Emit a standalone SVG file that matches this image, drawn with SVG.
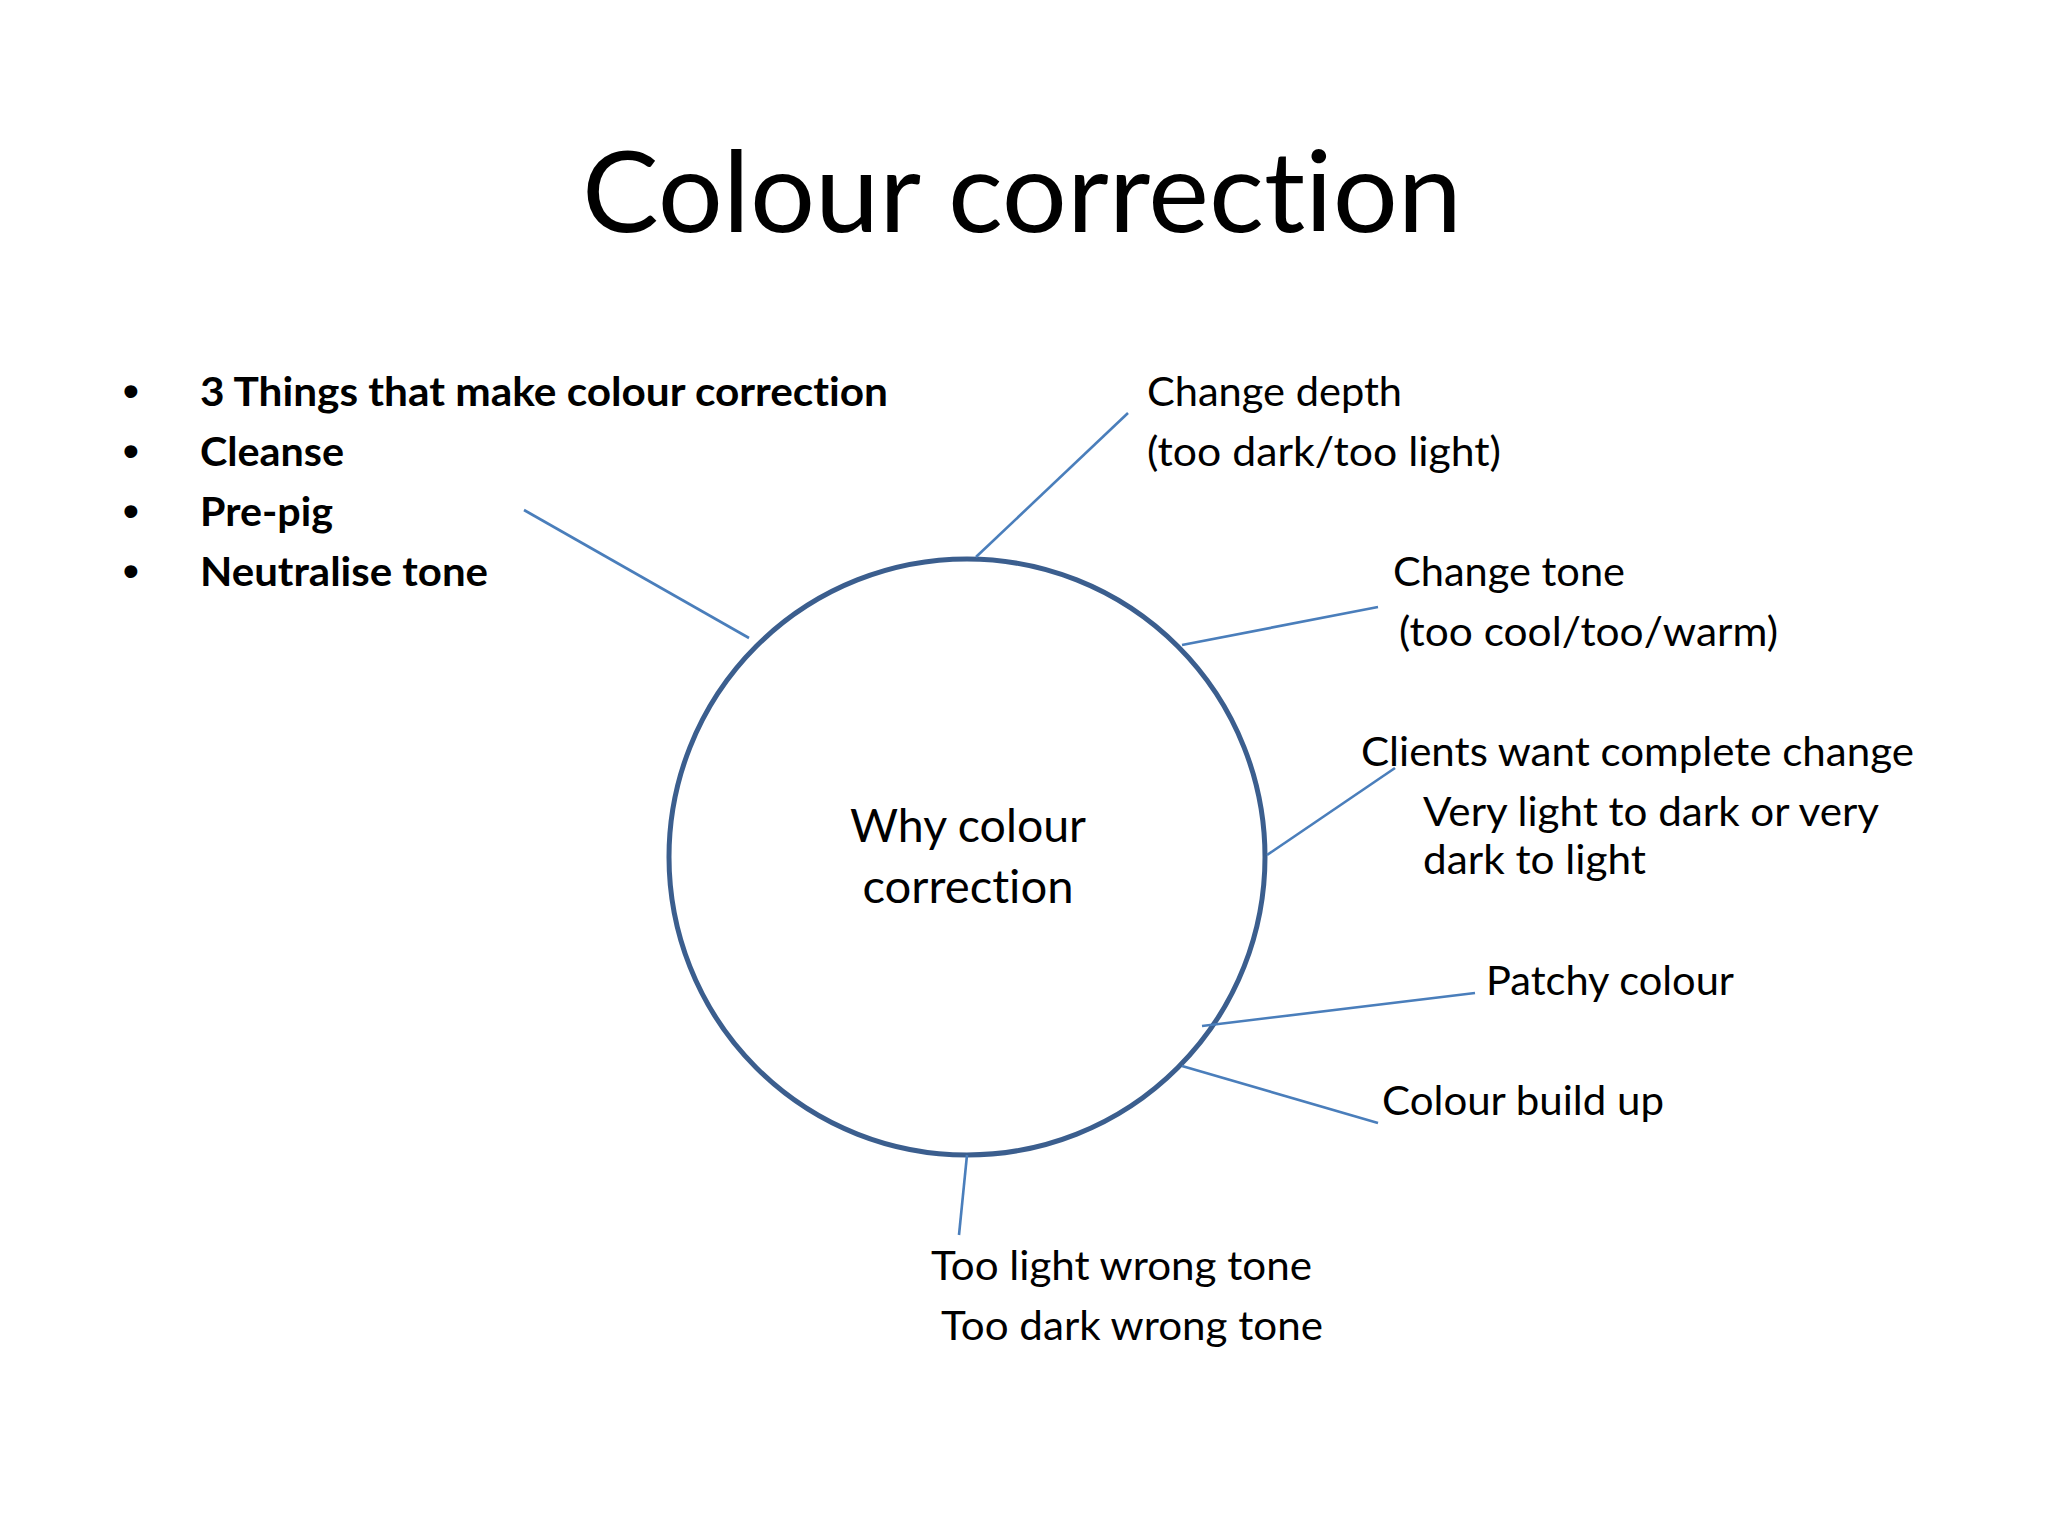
<svg xmlns="http://www.w3.org/2000/svg" width="2048" height="1536" viewBox="0 0 2048 1536">
<style>
.t{font-family:Lato,"Open Sans","Liberation Sans",sans-serif;fill:#000;font-variant-ligatures:none;font-feature-settings:"liga" 0,"clig" 0}
.title{font-size:112px}
.lbl{font-size:41px}
.bul{font-size:41px;font-weight:bold}
.dot{font-family:"Liberation Sans",Arial,sans-serif;font-size:45px;font-weight:bold;fill:#000}
.ctr{font-size:46px}
.conn line{stroke:#4A7EBB;stroke-width:2.6;fill:none}
.hub{fill:#FFFFFF;stroke:#3B5E8E;stroke-width:5}
</style>
<rect x="0" y="0" width="2048" height="1536" fill="#FFFFFF"/>
<g id="title">
<text class="t title" x="582" y="232" textLength="880" lengthAdjust="spacingAndGlyphs">Colour correction</text>
</g>
<g id="bullets">
<text class="dot" x="131" y="406" text-anchor="middle">•</text>
<text class="dot" x="131" y="466" text-anchor="middle">•</text>
<text class="dot" x="131" y="526" text-anchor="middle">•</text>
<text class="dot" x="131" y="586" text-anchor="middle">•</text>
<text class="t bul" x="200" y="406" textLength="688" lengthAdjust="spacingAndGlyphs">3 Things that make colour correction</text>
<text class="t bul" x="200" y="466" textLength="144" lengthAdjust="spacingAndGlyphs">Cleanse</text>
<text class="t bul" x="200" y="526" textLength="133" lengthAdjust="spacingAndGlyphs">Pre-pig</text>
<text class="t bul" x="200" y="586" textLength="288" lengthAdjust="spacingAndGlyphs">Neutralise tone</text>
</g>
<g id="hub">
<circle class="hub" cx="967" cy="857" r="298"/>
<text class="t ctr" x="968" y="842" text-anchor="middle" textLength="236" lengthAdjust="spacingAndGlyphs">Why colour</text>
<text class="t ctr" x="968" y="903" text-anchor="middle" textLength="211" lengthAdjust="spacingAndGlyphs">correction</text>
</g>
<g id="connectors" class="conn">
<line x1="524" y1="510" x2="749" y2="638"/>
<line x1="976" y1="557" x2="1128" y2="413"/>
<line x1="1182" y1="645" x2="1378" y2="607"/>
<line x1="1267" y1="855" x2="1395" y2="768"/>
<line x1="1202" y1="1026" x2="1475" y2="993"/>
<line x1="1182" y1="1066" x2="1378" y2="1123"/>
<line x1="967" y1="1155" x2="959" y2="1235"/>
</g>
<g id="change-depth">
<text class="t lbl" x="1147" y="406" textLength="255" lengthAdjust="spacingAndGlyphs">Change depth</text>
<text class="t lbl" x="1147" y="466" textLength="354" lengthAdjust="spacingAndGlyphs">(too dark/too light)</text>
</g>
<g id="change-tone">
<text class="t lbl" x="1393" y="586" textLength="232" lengthAdjust="spacingAndGlyphs">Change tone</text>
<text class="t lbl" x="1399" y="646" textLength="379" lengthAdjust="spacingAndGlyphs">(too cool/too/warm)</text>
</g>
<g id="clients">
<text class="t lbl" x="1361" y="766" textLength="553" lengthAdjust="spacingAndGlyphs">Clients want complete change</text>
<text class="t lbl" x="1423" y="826" textLength="456" lengthAdjust="spacingAndGlyphs">Very light to dark or very</text>
<text class="t lbl" x="1423" y="874" textLength="223" lengthAdjust="spacingAndGlyphs">dark to light</text>
</g>
<g id="patchy">
<text class="t lbl" x="1486" y="995" textLength="248" lengthAdjust="spacingAndGlyphs">Patchy colour</text>
</g>
<g id="build-up">
<text class="t lbl" x="1382" y="1115" textLength="282" lengthAdjust="spacingAndGlyphs">Colour build up</text>
</g>
<g id="wrong-tone">
<text class="t lbl" x="931" y="1280" textLength="381" lengthAdjust="spacingAndGlyphs">Too light wrong tone</text>
<text class="t lbl" x="941" y="1340" textLength="382" lengthAdjust="spacingAndGlyphs">Too dark wrong tone</text>
</g>
</svg>
